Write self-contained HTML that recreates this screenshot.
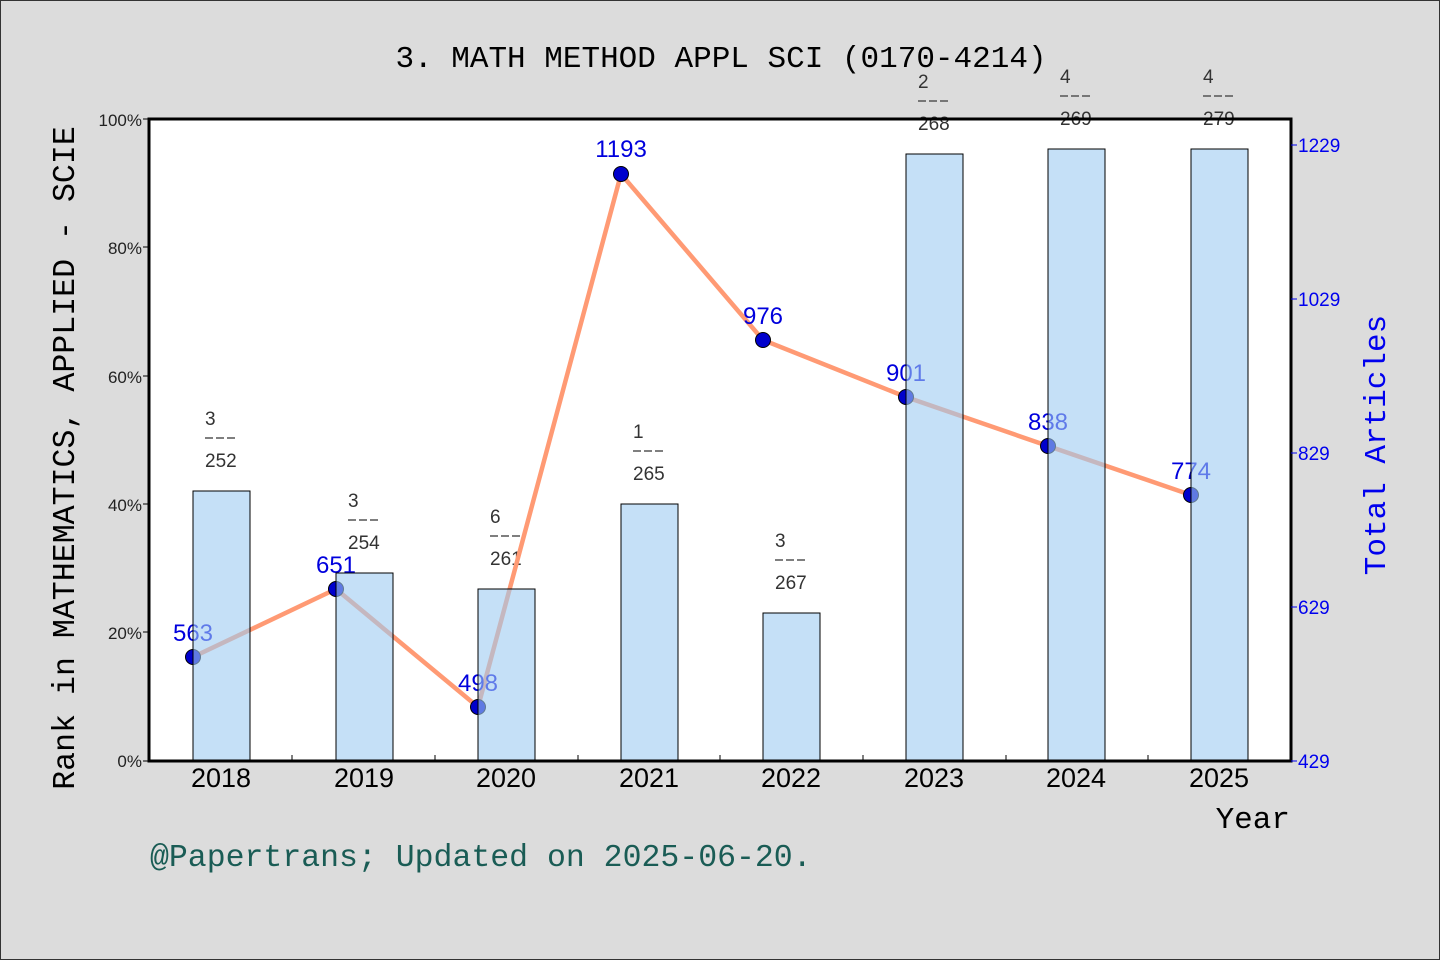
<!DOCTYPE html>
<html><head><meta charset="utf-8"><style>body{margin:0;background:#dcdcdc}</style></head><body>
<svg width="1440" height="960" xmlns="http://www.w3.org/2000/svg" style="display:block">
<rect x="0.5" y="0.5" width="1439" height="959" fill="#dcdcdc" stroke="#333" stroke-width="1"/>
<rect x="149" y="119" width="1142" height="642" fill="#fff"/>
<text x="721" y="67" text-anchor="middle" font-family="Liberation Mono, DejaVu Sans Mono, monospace" font-size="31" fill="#000">3. MATH METHOD APPL SCI (0170-4214)</text>
<g font-family="Liberation Sans, sans-serif" font-size="19" fill="#333">
<text x="205" y="425">3</text><text x="205" y="467">252</text>
<text x="348" y="507">3</text><text x="348" y="549">254</text>
<text x="490" y="523">6</text><text x="490" y="565">261</text>
<text x="633" y="438">1</text><text x="633" y="480">265</text>
<text x="775" y="547">3</text><text x="775" y="589">267</text>
<text x="918" y="88">2</text><text x="918" y="130">268</text>
<text x="1060" y="83">4</text><text x="1060" y="125">269</text>
<text x="1203" y="83">4</text><text x="1203" y="125">279</text>
</g>
<g stroke="#555" stroke-width="1.5" stroke-dasharray="8,3">
<line x1="205" y1="438" x2="238" y2="438"/>
<line x1="348" y1="520" x2="381" y2="520"/>
<line x1="490" y1="536" x2="523" y2="536"/>
<line x1="633" y1="451" x2="666" y2="451"/>
<line x1="775" y1="560" x2="808" y2="560"/>
<line x1="918" y1="101" x2="951" y2="101"/>
<line x1="1060" y1="96" x2="1093" y2="96"/>
<line x1="1203" y1="96" x2="1236" y2="96"/>
</g>
<polyline points="193,657 336,589 478,707 621,174 763,340 906,397 1048,446 1191,495" fill="none" stroke="#ff9a74" stroke-width="4.5"/>
<g fill="#0000cc" stroke="#000" stroke-width="1">
<circle cx="193" cy="657" r="7.5"/><circle cx="336" cy="589" r="7.5"/><circle cx="478" cy="707" r="7.5"/><circle cx="621" cy="174" r="7.5"/><circle cx="763" cy="340" r="7.5"/><circle cx="906" cy="397" r="7.5"/><circle cx="1048" cy="446" r="7.5"/><circle cx="1191" cy="495" r="7.5"/>
</g>
<g font-family="Liberation Sans, sans-serif" font-size="24" fill="#0000dd" text-anchor="middle">
<text x="193" y="641">563</text><text x="336" y="573">651</text><text x="478" y="691">498</text><text x="621" y="157">1193</text><text x="763" y="324">976</text><text x="906" y="381">901</text><text x="1048" y="430">838</text><text x="1191" y="479">774</text>
</g>
<g fill="rgb(158,203,242)" fill-opacity="0.6" stroke="#000" stroke-width="1">
<rect x="193" y="491" width="57" height="270"/>
<rect x="336" y="573" width="57" height="188"/>
<rect x="478" y="589" width="57" height="172"/>
<rect x="621" y="504" width="57" height="257"/>
<rect x="763" y="613" width="57" height="148"/>
<rect x="906" y="154" width="57" height="607"/>
<rect x="1048" y="149" width="57" height="612"/>
<rect x="1191" y="149" width="57" height="612"/>
</g>
<rect x="149" y="119" width="1142" height="642" fill="none" stroke="#000" stroke-width="3"/>
<g stroke="#000" stroke-width="1">
<line x1="143" y1="119" x2="149" y2="119"/><line x1="143" y1="247" x2="149" y2="247"/><line x1="143" y1="376" x2="149" y2="376"/><line x1="143" y1="504" x2="149" y2="504"/><line x1="143" y1="632" x2="149" y2="632"/><line x1="143" y1="761" x2="149" y2="761"/>
<line x1="292" y1="761" x2="292" y2="755"/><line x1="435" y1="761" x2="435" y2="755"/><line x1="578" y1="761" x2="578" y2="755"/><line x1="720" y1="761" x2="720" y2="755"/><line x1="863" y1="761" x2="863" y2="755"/><line x1="1006" y1="761" x2="1006" y2="755"/><line x1="1148" y1="761" x2="1148" y2="755"/>
</g>
<g stroke="#0000ee" stroke-width="1">
<line x1="1291" y1="145" x2="1297" y2="145"/><line x1="1291" y1="299" x2="1297" y2="299"/><line x1="1291" y1="453" x2="1297" y2="453"/><line x1="1291" y1="607" x2="1297" y2="607"/><line x1="1291" y1="761" x2="1297" y2="761"/>
</g>
<g font-family="Liberation Sans, sans-serif" font-size="17" fill="#222" text-anchor="end">
<text x="142" y="126">100%</text><text x="142" y="254">80%</text><text x="142" y="383">60%</text><text x="142" y="511">40%</text><text x="142" y="639">20%</text><text x="142" y="767">0%</text>
</g>
<g font-family="Liberation Sans, sans-serif" font-size="19" fill="#0000ee">
<text x="1298" y="152">1229</text><text x="1298" y="306">1029</text><text x="1298" y="460">829</text><text x="1298" y="614">629</text><text x="1298" y="768">429</text>
</g>
<g font-family="Liberation Sans, sans-serif" font-size="27" fill="#000" text-anchor="middle">
<text x="221" y="787">2018</text><text x="364" y="787">2019</text><text x="506" y="787">2020</text><text x="649" y="787">2021</text><text x="791" y="787">2022</text><text x="934" y="787">2023</text><text x="1076" y="787">2024</text><text x="1219" y="787">2025</text>
</g>
<text x="1290" y="828" text-anchor="end" font-family="Liberation Mono, monospace" font-size="31" fill="#000">Year</text>
<text transform="translate(74,458) rotate(-90)" text-anchor="middle" font-family="Liberation Mono, monospace" font-size="31.6" fill="#000">Rank in MATHEMATICS, APPLIED - SCIE</text>
<text transform="translate(1385,445) rotate(-90)" text-anchor="middle" font-family="Liberation Mono, monospace" font-size="31" fill="#0000ee">Total Articles</text>
<text x="150" y="866" font-family="Liberation Mono, monospace" font-size="31.5" fill="#1a5c55">@Papertrans; Updated on 2025-06-20.</text>
</svg>
</body></html>
